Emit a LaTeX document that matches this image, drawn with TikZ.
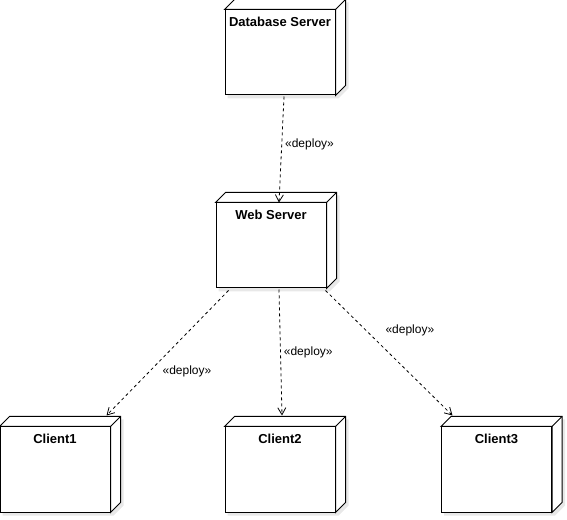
\documentclass[tikz,border=0pt]{standalone}
\usepackage{fontspec}
\setmainfont{Liberation Sans}
\usetikzlibrary{positioning,arrows.meta,backgrounds}

\begin{document}
\begin{tikzpicture}[x=1pt,y=1pt,
				box/.style={draw,rectangle,fill=white,line width=1pt,minimum width=110pt,minimum height=85pt,
					inner sep=0pt,text height=10pt,text depth=62pt,font=\fontsize{13}{15}\selectfont\bfseries},
				dep/.style={draw,line width=0.8pt,dash pattern=on 3pt off 3pt,-{Straight Barb[length=7pt,width=8pt]}},
				deplabel/.style={font=\fontsize{12}{14}\selectfont,inner sep=3pt}]
				\useasboundingbox (0,0) rectangle (567,519);
				\node[box] (db)  at (280,466.5)   {Database Server};
				\node[box] (web) at (271,273.5)   {Web Server};
				\node[box] (c2)  at (280,49.5)    {Client2};
				\node[box] (c1)  [left=114pt of c2]  {Client1};
				\node[box] (c3)  [right=105.5pt of c2] {Client3};
				
				\foreach \n in {db,web,c1,c2,c3}{
					\draw[line width=1pt,fill=white] (\n.north west) -- ++(10,10) -- ([shift={(10,10)}]\n.north east)
						-- ([shift={(10,10)}]\n.south east) -- (\n.south east) -- (\n.north east) -- cycle;
					\draw[line width=1pt] (\n.north east) -- ++(10,10);
					\begin{scope}[on background layer]
						\fill[gray!18] ([shift={(3,-3)}]\n.south west) -- ([shift={(3,-3)}]\n.north west) -- ++(10,10)
							-- ([shift={(13,7)}]\n.north east) -- ([shift={(13,7)}]\n.south east) -- ([shift={(3,-3)}]\n.south east) -- cycle;
					\end{scope}
				}
				
				\draw[dep] ([shift={(4,-1)}]db.south) -- node[deplabel,pos=.45,right] {«deploy»} ([xshift=8pt]web.north);
				\draw[dep] ([shift={(13,-2)}]web.south west) -- node[deplabel,pos=.65,right=10pt] {«deploy»} ([shift={(-4,11)}]c1.north east);
				\draw[dep] ([shift={(8,-1)}]web.south) -- node[deplabel,pos=.5,right] {«deploy»} ([shift={(2,11)}]c2.north);
				\draw[dep] ([shift={(-1,-2)}]web.south east) -- node[deplabel,pos=.32,right=16pt] {«deploy»} ([shift={(11.5,11)}]c3.north west);
			\end{tikzpicture}
\end{document}
